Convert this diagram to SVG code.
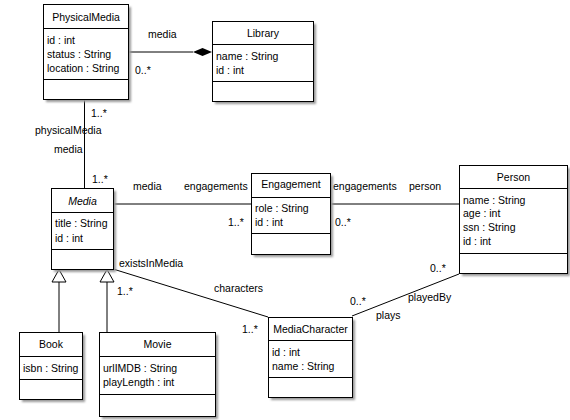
<svg xmlns="http://www.w3.org/2000/svg" width="570" height="420" viewBox="0 0 570 420">
<defs>
<filter id="sh" x="-10%" y="-10%" width="130%" height="130%">
<feGaussianBlur stdDeviation="1"/>
</filter>
</defs>
<style>
text{font-family:"Liberation Sans",Arial,sans-serif;font-size:10.5px;fill:#000}
.c{text-anchor:middle}
.i{font-style:italic}
.box{fill:#fff;stroke:#000;stroke-width:1}
.shd{fill:#999;filter:url(#sh)}
.ln{stroke:#000;stroke-width:1;fill:none}
</style>
<rect width="570" height="420" fill="#fff"/>
<g id="connectors">
<line class="ln" x1="128" y1="52" x2="193" y2="52"/>
<polygon points="193,52 202.5,48 212,52 202.5,56" fill="#000"/>
<line class="ln" x1="84.5" y1="99" x2="84.5" y2="188"/>
<line class="ln" x1="113" y1="204" x2="251" y2="204"/>
<line class="ln" x1="330" y1="204" x2="459" y2="204"/>
<line class="ln" x1="459" y1="274" x2="352" y2="316"/>
<line class="ln" x1="113" y1="269" x2="268" y2="317"/>
<line class="ln" x1="59" y1="282" x2="59" y2="332"/>
<polygon class="ln" points="59,269.5 52,282 66,282" fill="#fff" style="fill:#fff"/>
<line class="ln" x1="107" y1="282" x2="107" y2="332"/>
<polygon class="ln" points="107,269.5 100,282 114,282" style="fill:#fff"/>
<text x="148" y="37.5">media</text>
<text x="135" y="73.5">0..*</text>
<text x="91" y="116.5">1..*</text>
<text x="35" y="133.5">physicalMedia</text>
<text x="54" y="152.5">media</text>
<text x="92" y="182.5">1..*</text>
<text x="133" y="189.5">media</text>
<text x="184" y="189.5">engagements</text>
<text x="228" y="225.5">1..*</text>
<text x="333" y="189.5">engagements</text>
<text x="409" y="189.5">person</text>
<text x="335" y="225.5">0..*</text>
<text x="430" y="271.5">0..*</text>
<text x="408" y="300.5">playedBy</text>
<text x="350" y="304.5">0..*</text>
<text x="376" y="318.5">plays</text>
<text x="242" y="332.5">1..*</text>
<text x="119" y="266.5">existsInMedia</text>
<text x="214" y="291.5">characters</text>
<text x="117" y="294.5">1..*</text>
</g>
<g id="PhysicalMedia">
<rect class="shd" x="46" y="7" width="85" height="95"/>
<rect class="box" x="43.5" y="4.5" width="85" height="95"/>
<line class="ln" x1="43.5" y1="28.5" x2="128.5" y2="28.5"/>
<line class="ln" x1="43.5" y1="79.5" x2="128.5" y2="79.5"/>
<text class="c" x="86" y="21">PhysicalMedia</text>
<text x="47" y="43.5">id : int</text>
<text x="47" y="57.5">status : String</text>
<text x="47" y="71.5">location : String</text>
</g>
<g id="Library">
<rect class="shd" x="215" y="24" width="101" height="80"/>
<rect class="box" x="212.5" y="21.5" width="101" height="80"/>
<line class="ln" x1="212.5" y1="44.5" x2="313.5" y2="44.5"/>
<line class="ln" x1="212.5" y1="81.5" x2="313.5" y2="81.5"/>
<text class="c" x="263" y="36.5">Library</text>
<text x="216" y="59.5">name : String</text>
<text x="216" y="73.5">id : int</text>
</g>
<g id="Media">
<rect class="shd" x="54" y="191" width="62" height="81"/>
<rect class="box" x="51.5" y="188.5" width="62" height="81"/>
<line class="ln" x1="51.5" y1="212.5" x2="113.5" y2="212.5"/>
<line class="ln" x1="51.5" y1="249.5" x2="113.5" y2="249.5"/>
<text class="c i" x="82.5" y="204.5">Media</text>
<text x="55" y="226.5">title : String</text>
<text x="55" y="241.5">id : int</text>
</g>
<g id="Engagement">
<rect class="shd" x="254" y="176" width="79" height="81"/>
<rect class="box" x="251.5" y="173.5" width="79" height="81"/>
<line class="ln" x1="251.5" y1="197.5" x2="330.5" y2="197.5"/>
<line class="ln" x1="251.5" y1="233.5" x2="330.5" y2="233.5"/>
<text class="c" x="291" y="188">Engagement</text>
<text x="255" y="211.5">role : String</text>
<text x="255" y="225.5">id : int</text>
</g>
<g id="Person">
<rect class="shd" x="462" y="168" width="108" height="108"/>
<rect class="box" x="459.5" y="165.5" width="108" height="108"/>
<line class="ln" x1="459.5" y1="188.5" x2="567.5" y2="188.5"/>
<line class="ln" x1="459.5" y1="253.5" x2="567.5" y2="253.5"/>
<text class="c" x="513.5" y="180.5">Person</text>
<text x="463" y="203.5">name : String</text>
<text x="463" y="217">age : int</text>
<text x="463" y="231">ssn : String</text>
<text x="463" y="244.5">id : int</text>
</g>
<g id="MediaCharacter">
<rect class="shd" x="271" y="320" width="84" height="80"/>
<rect class="box" x="268.5" y="317.5" width="84" height="80"/>
<line class="ln" x1="268.5" y1="340.5" x2="352.5" y2="340.5"/>
<line class="ln" x1="268.5" y1="377.5" x2="352.5" y2="377.5"/>
<text class="c" x="310.5" y="332.5">MediaCharacter</text>
<text x="272" y="355.5">id : int</text>
<text x="272" y="369.5">name : String</text>
</g>
<g id="Book">
<rect class="shd" x="22" y="335" width="63" height="67"/>
<rect class="box" x="19.5" y="332.5" width="63" height="67"/>
<line class="ln" x1="19.5" y1="356.5" x2="82.5" y2="356.5"/>
<line class="ln" x1="19.5" y1="379.5" x2="82.5" y2="379.5"/>
<text class="c" x="51" y="348">Book</text>
<text x="23" y="371.5">isbn : String</text>
</g>
<g id="Movie">
<rect class="shd" x="102" y="335" width="116" height="84"/>
<rect class="box" x="99.5" y="332.5" width="116" height="84"/>
<line class="ln" x1="99.5" y1="356.5" x2="215.5" y2="356.5"/>
<line class="ln" x1="99.5" y1="394.5" x2="215.5" y2="394.5"/>
<text class="c" x="157.5" y="348">Movie</text>
<text x="103" y="371.5">urlIMDB : String</text>
<text x="103" y="385.5">playLength : int</text>
</g>
</svg>
